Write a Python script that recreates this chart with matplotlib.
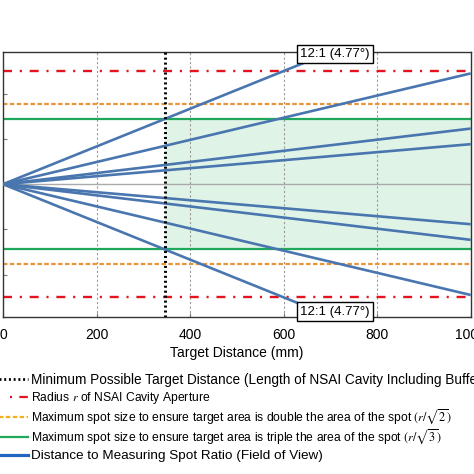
import numpy as np
import matplotlib
matplotlib.use("Agg")
import matplotlib.pyplot as plt
from matplotlib.lines import Line2D

plt.rcParams['font.family'] = ['Liberation Sans', 'DejaVu Sans']
plt.rcParams['mathtext.fontset'] = 'stix'

# ---- data ----
x_range = [0, 1000]                      # target distance (mm)
x_ticks = [0, 200, 400, 600, 800, 1000]
y_ticks = [-20, -10, 0, 10, 20]
cavity_radius = 25.0                     # r (mm)
min_target_distance = 346                # mm
fov_labels = ["12:1", "20:1", "40:1", "55:1"]
spot_radius_at_1000 = [41.7, 24.5, 12.3, 8.85]   # mm at 1000 mm
box_label = "12:1 (4.77°)"
box_x = 710
box_y = [28.8, -28.2]

W = H = 474
fig = plt.figure(figsize=(W / 100, H / 100), dpi=100)
ax = fig.add_axes([3 / W, 1 - 316.7 / H, 467.7 / W, 265 / H])
ax.set_xlim(*x_range)
ax.set_ylim(-29.3, 29.3)

half_sqrt2 = cavity_radius / np.sqrt(2)
half_sqrt3 = cavity_radius / np.sqrt(3)

# shaded region
ax.fill_between([min_target_distance, x_range[1]], -half_sqrt3, half_sqrt3,
                color='#dff3e7', zorder=1, lw=0)

# grid
for xt in x_ticks[1:-1]:
    ax.axvline(xt, color='#9a9a9a', lw=0.8, ls=(0, (2, 2)), zorder=1.5)
ax.axhline(0, color='#aaaaaa', lw=1.0, zorder=1.5)

red = '#e3141f'
orange = '#e8923a'
green = '#1fa85a'
blue = '#4a76b0'
red_ls = (0, (3.8, 3.3, 0.9, 3.3))
orange_ls = (0, (2.0, 1.1))
dot_ls = (0, (0.7, 1.0))

for s in (1, -1):
    ax.axhline(s * cavity_radius, color=red, lw=1.7, ls=red_ls, zorder=2)
    ax.axhline(s * half_sqrt2, color=orange, lw=1.6, ls=orange_ls, zorder=2)
    ax.axhline(s * half_sqrt3, color=green, lw=1.6, zorder=2)

for rad in spot_radius_at_1000:
    ax.plot(x_range, [0, rad], color=blue, lw=1.9, zorder=3, solid_capstyle='butt')
    ax.plot(x_range, [0, -rad], color=blue, lw=1.9, zorder=3, solid_capstyle='butt')

ax.axvline(min_target_distance, color='black', lw=2.1, ls=dot_ls, zorder=4)

for by in box_y:
    ax.text(box_x, by, box_label, ha='center', va='center', fontsize=9.5,
            zorder=6, clip_on=False,
            bbox=dict(boxstyle='square,pad=0.25', fc='white', ec='black', lw=1))

ax.set_xticks(x_ticks)
ax.set_yticks(y_ticks)
ax.tick_params(direction='in', length=3, color='#777777', labelsize=10, pad=8)
ax.tick_params(axis='y', labelleft=False)
for sp in ax.spines.values():
    sp.set_color('#333333')
    sp.set_linewidth(1.0)
ax.set_xlabel("Target Distance (mm)", fontsize=10, labelpad=3)

# legend (one row per legend for exact row placement)
handles = [
    Line2D([], [], color='black', lw=2.0, ls=dot_ls),
    Line2D([], [], color=red, lw=1.6, ls=(0, (0.9, 3.3, 3.8, 3.3))),
    Line2D([], [], color='#f0b020', lw=1.6, ls=orange_ls),
    Line2D([], [], color=green, lw=1.6),
    Line2D([], [], color='#1f66c0', lw=2.3),
]
labels = [
    "Minimum Possible Target Distance (Length of NSAI Cavity Including Buffer)",
    "Radius $r$ of NSAI Cavity Aperture",
    "Maximum spot size to ensure target area is double the area of the spot $(r/\\sqrt{2})$",
    "Maximum spot size to ensure target area is triple the area of the spot $(r/\\sqrt{3})$",
    "Distance to Measuring Spot Ratio (Field of View)",
]
row_y = [380, 398.5, 417, 436.5, 456]
row_fs = [9.8, 8.75, 8.75, 8.75, 9.7]
handle_start = [-12, 10, -12, -12, -12]
handle_end = 28
text_start = 31
for h, lab, ry, fs, hs in zip(handles, labels, row_y, row_fs, handle_start):
    fs_px = fs * 100 / 72
    fig.legend([h], [lab], loc='center left',
               bbox_to_anchor=(hs / W, 1 - ry / H),
               frameon=False, fontsize=fs,
               handlelength=(handle_end - hs) / fs_px,
               handletextpad=(text_start - handle_end) / fs_px,
               borderpad=0, borderaxespad=0)

fig.savefig("out.png", dpi=100)
